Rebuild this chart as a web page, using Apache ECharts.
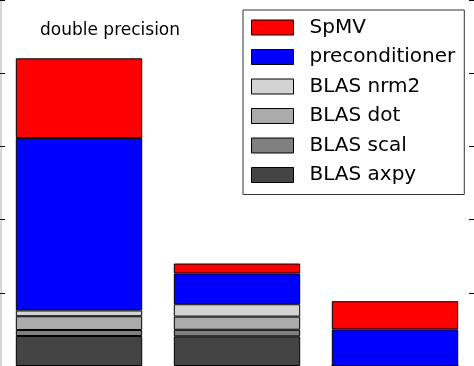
<!DOCTYPE html>
<html>
<head>
<meta charset="utf-8">
<script src="https://cdn.jsdelivr.net/npm/echarts@6/dist/echarts.min.js"></script>
<style>
html,body{margin:0;padding:0;background:#fff;}
#c{width:474px;height:366px;}
</style>
</head>
<body>
<div id="c"></div>
<script>
const categories = ['run 1', 'run 2', 'run 3'];
const yTicks = [0, 1, 2, 3, 4, 5];
const seriesNames = ['BLAS axpy', 'BLAS scal', 'BLAS dot', 'BLAS nrm2', 'preconditioner', 'SpMV'];
const legendOrder = ['SpMV', 'preconditioner', 'BLAS nrm2', 'BLAS dot', 'BLAS scal', 'BLAS axpy'];
const axpy = [0.41, 0.405, 0];
const scal = [0.082, 0.09, 0];
const dot = [0.188, 0.18, 0];
const nrm2 = [0.079, 0.169, 0];
const precond = [2.356, 0.42, 0.5];
const spmv = [1.088, 0.136, 0.385];
const values = [axpy, scal, dot, nrm2, precond, spmv];
const colors = ['#444444', '#808080', '#aaaaaa', '#d3d3d3', '#0000ff', '#ff0000'];

const FONT = 'DejaVu Sans';
const chart = echarts.init(document.getElementById('c'), null, {renderer: 'canvas'});

const tickStyle = {show: true, inside: true, length: 5, lineStyle: {color: '#000', width: 1}};

chart.setOption({
  animation: false,
  backgroundColor: '#fff',
  title: {
    text: 'double precision',
    left: 40,
    top: 22,
    padding: 0,
    textStyle: {fontFamily: FONT, fontSize: 17, fontWeight: 'normal', color: '#000'}
  },
  legend: {
    data: legendOrder,
    orient: 'vertical',
    left: 243,
    top: 10,
    padding: [7.5, 9, 9.5, 8],
    itemWidth: 42,
    itemHeight: 15,
    itemGap: 9.5,
    icon: 'rect',
    borderColor: '#333',
    borderWidth: 1,
    backgroundColor: '#fff',
    itemStyle: {borderColor: '#000', borderWidth: 1},
    textStyle: {fontFamily: FONT, fontSize: 20, color: '#000', lineHeight: 20, padding: [0, 0, 0, 11]}
  },
  grid: {left: 0, right: 0, top: 0, bottom: 0, containLabel: false},
  xAxis: [
    {
      type: 'category', data: categories, position: 'bottom',
      axisLine: {show: false},
      axisTick: Object.assign({alignWithLabel: true}, tickStyle),
      axisLabel: {show: false}
    },
    {
      type: 'category', data: categories, position: 'top',
      axisLine: {show: false},
      axisTick: Object.assign({alignWithLabel: true}, tickStyle),
      axisLabel: {show: false}
    }
  ],
  yAxis: [
    {
      type: 'value', min: yTicks[0], max: yTicks[yTicks.length - 1], interval: 1, position: 'left',
      axisLine: {show: true, lineStyle: {color: '#d6d6d6', width: 4}},
      axisTick: tickStyle,
      axisLabel: {show: false},
      splitLine: {show: false}
    },
    {
      type: 'value', min: yTicks[0], max: yTicks[yTicks.length - 1], interval: 1, position: 'right',
      axisLine: {show: false},
      axisTick: tickStyle,
      axisLabel: {show: false},
      splitLine: {show: false}
    }
  ],
  series: seriesNames.map((name, i) => ({
    name: name,
    type: 'bar',
    stack: 'total',
    barWidth: '80%',
    data: values[i],
    itemStyle: {color: colors[i], borderColor: '#000', borderWidth: 1}
  }))
});
</script>
</body>
</html>
